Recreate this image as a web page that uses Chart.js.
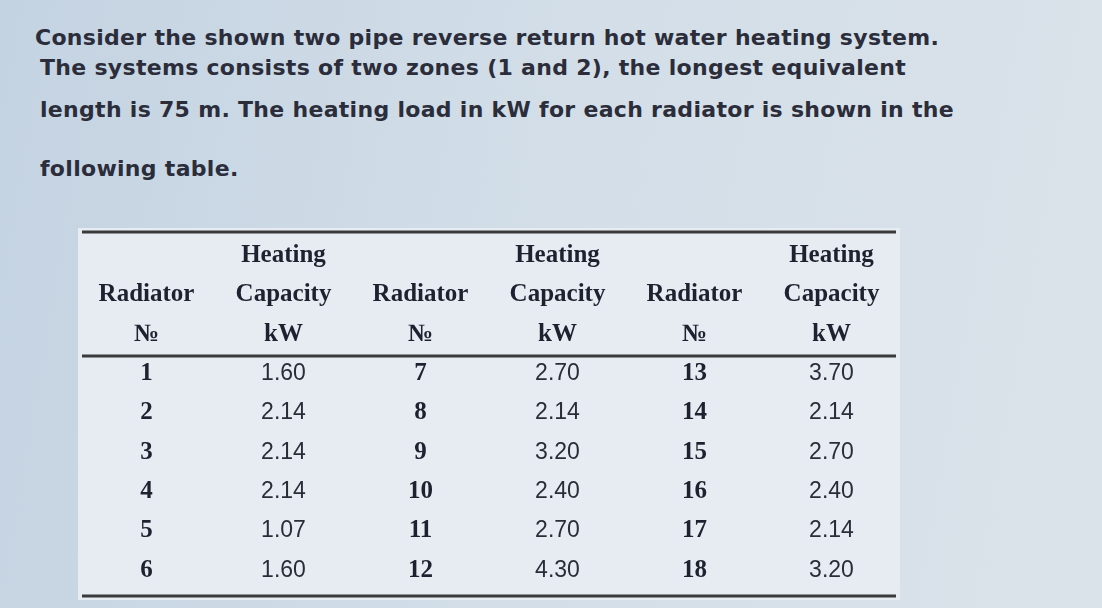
<!DOCTYPE html>
<html>
<head>
<meta charset="utf-8">
<script src="https://cdn.jsdelivr.net/npm/chart.js@4.4.0/dist/chart.umd.min.js"></script>
<style>
  body { margin:0; width:1102px; height:608px; overflow:hidden;
         background: linear-gradient(100deg, #c4d3e2 0%, #d3dee8 50%, #dbe3ea 100%); }
  .ln { position:absolute; font-family:"DejaVu Sans", sans-serif; font-weight:bold;
        font-size:22px; letter-spacing:0.3px; color:#2b2d3a; white-space:nowrap; }
  #box { position:absolute; left:78px; top:228px; width:822px; height:372px;
         background:#e6ecf1; }
</style>
</head>
<body>
<div class="ln" style="left:35px;top:25px">Consider the shown two pipe reverse return hot water heating system.</div>
<div class="ln" style="left:40px;top:55px">The systems consists of two zones (1 and 2), the longest equivalent</div>
<div class="ln" style="left:40px;top:97px">length is 75 m. The heating load in kW for each radiator is shown in the</div>
<div class="ln" style="left:40px;top:156px">following table.</div>
<div id="box"><canvas id="chart"></canvas></div>
<script>
var columns = ['r1', 'c1', 'r2', 'c2', 'r3', 'c3'];
var headerTop = ['', 'Heating', '', 'Heating', '', 'Heating'];
var headerMid = ['Radiator', 'Capacity', 'Radiator', 'Capacity', 'Radiator', 'Capacity'];
var headerUnit = ['№', 'kW', '№', 'kW', '№', 'kW'];
var radiators1 = ['1', '2', '3', '4', '5', '6'];
var capacity1 = ['1.60', '2.14', '2.14', '2.14', '1.07', '1.60'];
var radiators2 = ['7', '8', '9', '10', '11', '12'];
var capacity2 = ['2.70', '2.14', '3.20', '2.40', '2.70', '4.30'];
var radiators3 = ['13', '14', '15', '16', '17', '18'];
var capacity3 = ['3.70', '2.14', '2.70', '2.40', '2.14', '3.20'];
var rows = ['h1', 'h2', 'h3', 'd1', 'd2', 'd3', 'd4', 'd5', 'd6'];

var cells = [];
[headerTop, headerMid, headerUnit].forEach(function(line, i){
  line.forEach(function(t, j){ if (t) cells.push({x: columns[j], y: rows[i], t: t, head: true}); });
});
var dataCols = [radiators1, capacity1, radiators2, capacity2, radiators3, capacity3];
dataCols.forEach(function(col, j){
  col.forEach(function(t, i){ cells.push({x: columns[j], y: rows[i + 3], t: t, head: j % 2 == 0}); });
});

var tablePlugin = {
  id: 'tableText',
  afterDatasetsDraw: function(chart){
    var c = chart.ctx, xs = chart.scales.x, ys = chart.scales.y, area = chart.chartArea;
    c.save();
    c.strokeStyle = '#3a3a3a';
    c.lineWidth = 3;
    var yRule = (ys.getPixelForValue(2) + ys.getPixelForValue(3)) / 2 + 2;
    [area.top - 4, yRule, area.bottom + 6].forEach(function(y){
      c.beginPath(); c.moveTo(area.left + 4, y); c.lineTo(area.right - 4, y); c.stroke();
    });
    c.textAlign = 'center';
    c.textBaseline = 'middle';
    chart.data.datasets[0].data.forEach(function(d){
      var x = xs.getPixelForValue(columns.indexOf(d.x));
      var y = ys.getPixelForValue(rows.indexOf(d.y));
      if (d.head) { c.font = 'bold 25px "Liberation Serif", serif'; c.fillStyle = '#1e2230'; }
      else { c.font = '23px "Liberation Sans", sans-serif'; c.fillStyle = '#2a2d38'; }
      c.fillText(d.t, x, y);
    });
    c.restore();
  }
};

new Chart(document.getElementById('chart'), {
  type: 'scatter',
  data: { datasets: [{ data: cells, pointRadius: 0, pointHoverRadius: 0 }] },
  options: {
    responsive: true, maintainAspectRatio: false, animation: false,
    layout: { padding: { top: 8, bottom: 10 } },
    plugins: { legend: { display: false }, tooltip: { enabled: false } },
    scales: {
      x: { type: 'category', labels: columns, offset: true, display: false },
      y: { type: 'category', labels: rows, offset: true, display: false }
    }
  },
  plugins: [tablePlugin]
});
</script>
</body>
</html>
